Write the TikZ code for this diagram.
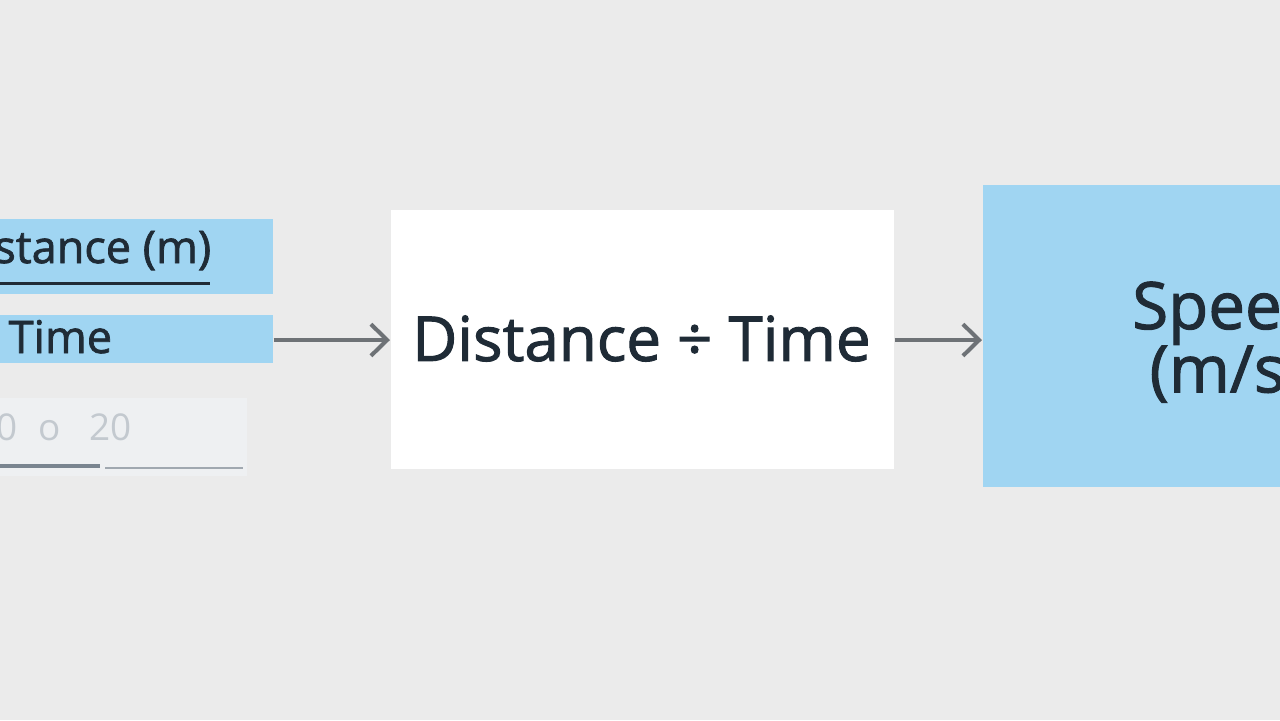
\documentclass[tikz,border=0pt]{standalone}
\usepackage{fontspec}
\setmainfont{Open Sans}
\newfontfamily\semibold[FakeBold=1.6]{Open Sans}
\usetikzlibrary{arrows.meta}
\definecolor{bg}{HTML}{EBEBEB}
\definecolor{boxblue}{HTML}{A0D5F2}
\definecolor{ink}{HTML}{1F2B36}
\definecolor{arrowgray}{HTML}{6E7276}
\definecolor{faint}{HTML}{C3C9CF}
\definecolor{panel}{HTML}{EEF0F2}
\definecolor{bardark}{HTML}{7A8590}
\definecolor{barlight}{HTML}{A0A8B0}
\tikzset{
  bluebox/.style={fill=boxblue, draw=none, inner sep=0pt, anchor=north west},
  whitebox/.style={fill=white, draw=none, inner sep=0pt, anchor=north west},
  flowarrow/.style={draw=arrowgray, line width=1.15pt, -{Straight Barb[length=4.6pt,width=9pt,line width=1.15pt]}},
  bigtext/.style={text=ink, inner sep=0pt, font=\semibold\fontsize{17.6}{17.6}\selectfont},
  smalltext/.style={text=ink, inner sep=0pt, font=\semibold\fontsize{12.8}{12.8}\selectfont},
}
\begin{document}
\begin{tikzpicture}[x=0.01cm, y=-0.01cm]
\useasboundingbox (0,0) rectangle (1280,720);
\fill[bg] (0,0) rectangle (1280,720);
\clip (0,0) rectangle (1280,720);

% left input boxes
\node[bluebox, minimum width=3.32cm, minimum height=0.75cm] (dist) at (-60,218) {};
\node[bluebox, minimum width=3.32cm, minimum height=0.48cm] (time) at (-60,314) {};
\node[smalltext, anchor=base east] (disttxt) at (212,263) {Distance (m)};
\draw[ink, line width=0.85pt] (-60,283) -- (210,283);
\node[smalltext, anchor=base west] (timetxt) at (8,353) {Time};

% faint lower row
\fill[panel] (-60,398) rectangle (247,476);
\node[text=faint, inner sep=0pt, anchor=base west, font=\fontsize{10.5}{10.5}\selectfont] (faintrow) at (-4,440) {0\hspace{6pt}o\hspace{8pt}20};
\draw[bardark, line width=1.1pt] (-60,466) -- (100,466);
\draw[barlight, line width=0.6pt] (105,468) -- (243,468);

% middle formula box
\node[whitebox, minimum width=5.03cm, minimum height=2.59cm] (formula) at (390,209) {};
\node[bigtext] (formulatxt) at (641.5,338.5) {Distance ÷ Time};

% right result box
\node[bluebox, minimum width=4.9cm, minimum height=3.02cm] (speed) at (982,184) {};
\node[bigtext, align=center, font=\semibold\fontsize{18.6}{18}\selectfont] (speedtxt) at (1227,341) {Speed\\(m/s)};

% connectors
\draw[flowarrow] (time.east |- 0,340) -- (formula.west |- 0,340);
\draw[flowarrow] (formula.east |- 0,340) -- (speed.west |- 0,340);
\end{tikzpicture}
\end{document}
